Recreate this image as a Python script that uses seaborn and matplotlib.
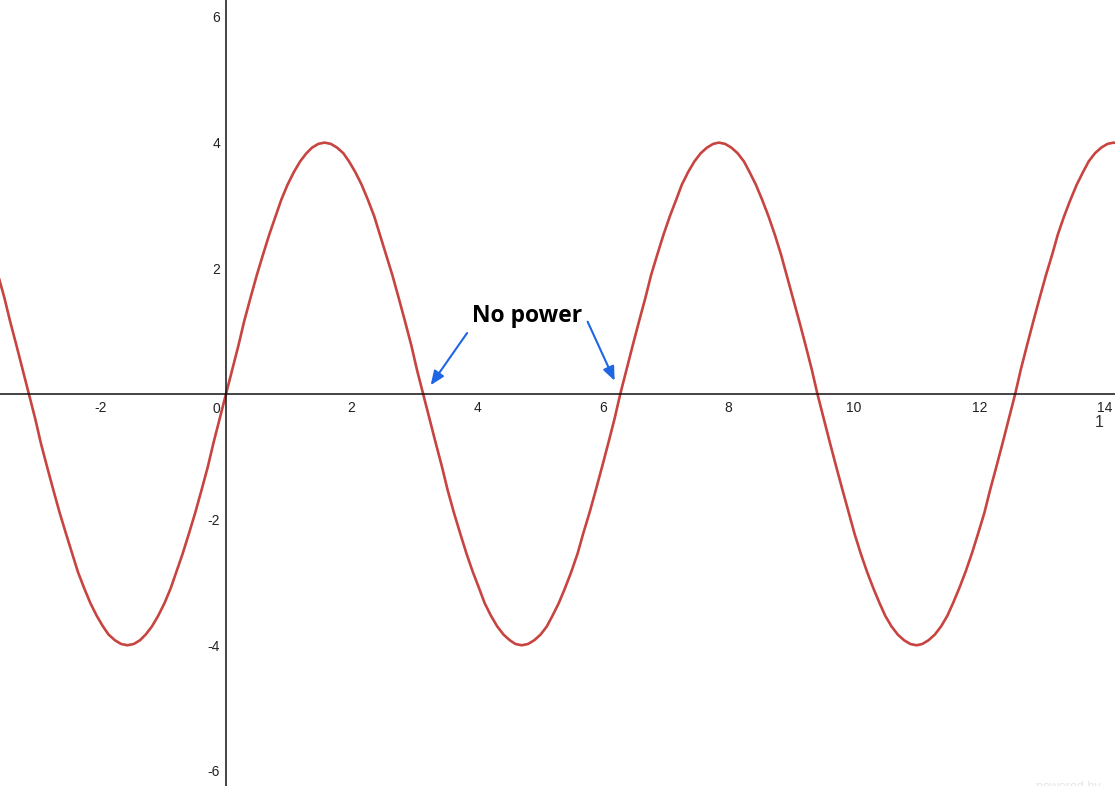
import matplotlib
matplotlib.use("Agg")
import matplotlib.pyplot as plt
import seaborn as sns

# Points (x, y)
x_vals = [-3.73, -3.63, -3.53, -3.44, -3.34, -3.24,
          -3.14, -3.04, -2.95, -2.85, -2.75, -2.65, -2.55, -2.45, -2.36, -2.26,
          -2.16, -2.06, -1.96, -1.87, -1.77, -1.67, -1.57, -1.47, -1.37, -1.28,
          -1.18, -1.08, -0.98, -0.88, -0.79, -0.69, -0.59, -0.49, -0.39, -0.29,
          -0.20, -0.10,
          0.00, 0.10, 0.20, 0.29, 0.39, 0.49, 0.59, 0.69, 0.79, 0.88,
          0.98, 1.08, 1.18, 1.28, 1.37, 1.47, 1.57, 1.67, 1.77, 1.87,
          1.96, 2.06, 2.16, 2.26, 2.36, 2.45, 2.55, 2.65, 2.75, 2.85,
          2.95, 3.04,
          3.14, 3.24, 3.34, 3.44, 3.53, 3.63, 3.73, 3.83, 3.93, 4.03,
          4.12, 4.22, 4.32, 4.42, 4.52, 4.61, 4.71, 4.81, 4.91, 5.01,
          5.11, 5.20, 5.30, 5.40, 5.50, 5.60, 5.69, 5.79, 5.89, 5.99,
          6.09, 6.19,
          6.28, 6.38, 6.48, 6.58, 6.68, 6.77, 6.87, 6.97, 7.07, 7.17,
          7.26, 7.36, 7.46, 7.56, 7.66, 7.76, 7.85, 7.95, 8.05, 8.15,
          8.25, 8.34, 8.44, 8.54, 8.64, 8.74, 8.84, 8.93, 9.03, 9.13,
          9.23, 9.33,
          9.42, 9.52, 9.62, 9.72, 9.82, 9.92, 10.01, 10.11, 10.21, 10.31,
          10.41, 10.50, 10.60, 10.70, 10.80, 10.90, 11.00, 11.09, 11.19, 11.29,
          11.39, 11.49, 11.58, 11.68, 11.78, 11.88, 11.98, 12.08, 12.17, 12.27,
          12.37, 12.47,
          12.57, 12.66, 12.76, 12.86, 12.96, 13.06, 13.16, 13.25, 13.35, 13.45,
          13.55, 13.65, 13.74, 13.84, 13.94, 14.04, 14.14, 14.24, 14.33]
y_vals = [2.22, 1.89, 1.53, 1.16, 0.78, 0.39,
          0.00, -0.39, -0.78, -1.16, -1.53, -1.89, -2.22, -2.54, -2.83, -3.09,
          -3.33, -3.53, -3.70, -3.83, -3.92, -3.98, -4.00, -3.98, -3.92, -3.83,
          -3.70, -3.53, -3.33, -3.09, -2.83, -2.54, -2.22, -1.89, -1.53, -1.16,
          -0.78, -0.39,
          0.00, 0.39, 0.78, 1.16, 1.53, 1.89, 2.22, 2.54, 2.83, 3.09,
          3.33, 3.53, 3.70, 3.83, 3.92, 3.98, 4.00, 3.98, 3.92, 3.83,
          3.70, 3.53, 3.33, 3.09, 2.83, 2.54, 2.22, 1.89, 1.53, 1.16,
          0.78, 0.39,
          0.00, -0.39, -0.78, -1.16, -1.53, -1.89, -2.22, -2.54, -2.83, -3.09,
          -3.33, -3.53, -3.70, -3.83, -3.92, -3.98, -4.00, -3.98, -3.92, -3.83,
          -3.70, -3.53, -3.33, -3.09, -2.83, -2.54, -2.22, -1.89, -1.53, -1.16,
          -0.78, -0.39,
          0.00, 0.39, 0.78, 1.16, 1.53, 1.89, 2.22, 2.54, 2.83, 3.09,
          3.33, 3.53, 3.70, 3.83, 3.92, 3.98, 4.00, 3.98, 3.92, 3.83,
          3.70, 3.53, 3.33, 3.09, 2.83, 2.54, 2.22, 1.89, 1.53, 1.16,
          0.78, 0.39,
          0.00, -0.39, -0.78, -1.16, -1.53, -1.89, -2.22, -2.54, -2.83, -3.09,
          -3.33, -3.53, -3.70, -3.83, -3.92, -3.98, -4.00, -3.98, -3.92, -3.83,
          -3.70, -3.53, -3.33, -3.09, -2.83, -2.54, -2.22, -1.89, -1.53, -1.16,
          -0.78, -0.39,
          0.00, 0.39, 0.78, 1.16, 1.53, 1.89, 2.22, 2.54, 2.83, 3.09,
          3.33, 3.53, 3.70, 3.83, 3.92, 3.98, 4.00, 3.98, 3.92]

x_ticks = [-2, 2, 4, 6, 8, 10, 12, 14]
y_ticks = [-6, -4, -2, 2, 4, 6]
note_text = "No power"

sns.set_theme(style="white")
plt.rcParams['font.family'] = ['Liberation Sans', 'DejaVu Sans']
plt.rcParams['axes.unicode_minus'] = False

fig = plt.figure(figsize=(11.15, 7.86), dpi=100)
ax = fig.add_axes([0, 0, 1, 1])

sns.lineplot(x=x_vals, y=y_vals, sort=False, estimator=None,
             color='#c74440', linewidth=1.9, ax=ax)

ax.set_xlim(-3.60, 14.16)
ax.set_ylim(-6.24, 6.27)

# axes through the origin
ax.spines['left'].set_position(('data', 0))
ax.spines['bottom'].set_position(('data', 0))
ax.spines['top'].set_visible(False)
ax.spines['right'].set_visible(False)
for s in ['left', 'bottom']:
    ax.spines[s].set_color('#111111')
    ax.spines[s].set_linewidth(1.1)

ax.set_xticks(x_ticks)
ax.set_yticks(y_ticks)
ax.tick_params(axis='both', direction='inout', length=4.5, width=0.9,
               colors='#111111', labelsize=10, labelcolor='#222222')
ax.tick_params(axis='x', pad=3)
ax.tick_params(axis='y', pad=2)
ax.annotate("0", xy=(0, 0), xytext=(-4, -6), textcoords='offset points',
            ha='right', va='top', fontsize=10, color='#222222')
ax.text(0.9854, 0.4631, "1", transform=ax.transAxes, ha='center', va='center',
        fontsize=11.5, color='#333333')

# annotation
ax.text(4.80, 1.14, note_text, ha='center', va='baseline',
        fontsize=16.5, fontweight='bold', family=['Open Sans', 'DejaVu Sans'],
        color='black')
arrow = dict(arrowstyle='-|>,head_length=0.6,head_width=0.25', color='#1f66e5',
             lw=1.5, mutation_scale=14, shrinkA=0, shrinkB=0)
ax.annotate("", xy=(3.26, 0.14), xytext=(3.84, 0.97), arrowprops=arrow)
ax.annotate("", xy=(6.19, 0.21), xytext=(5.76, 1.15), arrowprops=arrow)

fig.text(0.987, 0.006, "powered by", ha='right', va='top', fontsize=9,
         color='#e6e6e6')

fig.savefig("out.png", dpi=100)
